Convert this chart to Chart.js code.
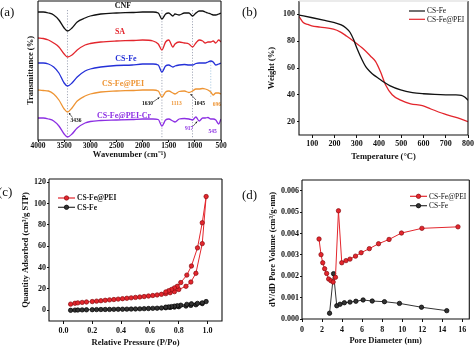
<!DOCTYPE html>
<html>
<head>
<meta charset="utf-8">
<script src="https://cdn.jsdelivr.net/npm/chart.js@4.4.1/dist/chart.umd.min.js"></script>
<style>
  html, body { margin: 0; padding: 0; background: #fff; }
  #wrap { position: relative; width: 474px; height: 348px; overflow: hidden; }
  #wrap canvas { position: absolute; }
</style>
</head>
<body>
<div id="wrap">
  <canvas id="ftir" width="237" height="174" style="left:0;top:0"></canvas>
  <canvas id="tga" width="237" height="174" style="left:237px;top:0"></canvas>
  <canvas id="bet" width="237" height="174" style="left:0;top:174px"></canvas>
  <canvas id="bjh" width="237" height="174" style="left:237px;top:174px"></canvas>
</div>
<script>
// (a) FTIR spectra, stacked with offsets (arbitrary transmittance units)
const wavenumbers = [4000, 3900, 3800, 3700, 3600, 3500, 3436, 3350, 3250, 3100, 3000, 2800, 2500, 2200, 2000, 1800, 1700, 1630, 1560, 1500, 1420, 1380, 1300, 1200, 1113, 1045, 980, 917, 850, 800, 750, 696, 650, 600, 545, 500];
const irCNF = [128, 128, 127, 125, 120, 112, 109, 112, 118, 122, 124, 126, 127, 127.5, 128, 128, 127, 121, 126, 127, 124, 126, 125, 127, 127, 124, 127, 129, 129, 128, 127, 126, 125, 125, 126, 127];
const irSA = [102, 101.5, 100, 97, 93, 86, 83, 85, 90, 95, 96.5, 98, 99, 99.5, 100, 99, 96, 90, 98, 100, 93, 96, 98, 97, 96, 93, 97, 100, 99, 97, 98, 98, 99, 97, 100, 98];
const irCSFe = [77, 77, 76, 73, 67, 57, 54, 57, 63, 69, 71, 73, 74.5, 75, 76, 76, 75, 68, 74, 75, 73, 74, 75, 75.5, 75, 75, 76.5, 77, 77, 77, 78, 79, 78, 75, 76, 77];
const irCSFePEI = [50, 49.5, 49, 46, 40, 31, 28, 32, 39, 44, 46, 48, 49, 49.5, 50, 50, 49, 43, 48, 49, 47, 46, 48.5, 49, 47.5, 49, 51, 51, 51.5, 51, 50, 48, 45, 47, 47, 46];
const irCSFePEICr = [22, 22, 21, 19, 14, 6, 3, 6, 12, 17, 18.5, 19.5, 20, 20.5, 21, 21, 20.5, 14, 20, 21, 19, 18, 21, 21.5, 21, 20, 23, 19, 22, 22, 22.5, 21, 21, 20, 16, 21];
const irPeakMarks = [3436, 1630, 1045];
const irPeakMarkPEI = 696;
const wavenumberTicks = [4000, 3500, 3000, 2500, 2000, 1500, 1000, 500];

// (b) TGA
const tgaTempFe = [40, 100, 150, 200, 230, 250, 270, 286, 300, 324, 340, 361, 380, 400, 421, 450, 497, 550, 600, 650, 700, 740, 770, 785, 800];
const tgaWeightFe = [99.5, 97.5, 95.7, 93.8, 92.2, 90, 86.5, 81, 75, 66, 61, 57, 54.3, 52, 49.5, 46.7, 43.7, 41.7, 40.8, 40.3, 40, 39.9, 39.5, 38.3, 36];
const tgaTempPEI = [40, 59, 80, 97, 135, 195, 225, 255, 286, 331, 361, 384, 407, 429, 459, 497, 542, 595, 633, 693, 754, 800];
const tgaWeightPEI = [98.5, 94, 92.5, 91.5, 90.5, 89, 87, 83.7, 80, 74, 69, 65, 57, 47.5, 40, 36, 33.3, 32, 29.4, 25.7, 22.7, 20];
const tempTicks = [100, 200, 300, 400, 500, 600, 700, 800];
const weightTicks = [20, 40, 60, 80, 100];

// (c) N2 isotherms: adsorption then desorption branch
const betPressureAds = [0.05, 0.08, 0.1, 0.13, 0.16, 0.2, 0.23, 0.26, 0.29, 0.32, 0.35, 0.38, 0.41, 0.44, 0.47, 0.5, 0.53, 0.56, 0.59, 0.62, 0.65, 0.68, 0.71, 0.74, 0.77, 0.8, 0.85, 0.884, 0.919, 0.963, 0.99];
const betAdsPEI = [5.8, 6.6, 7, 7.4, 7.8, 8.2, 8.6, 9, 9.4, 9.8, 10.1, 10.5, 10.9, 11.3, 11.7, 12.1, 12.5, 12.9, 13.4, 13.9, 14.4, 15, 15.6, 16.5, 17.5, 19.5, 22.5, 26.5, 34.7, 62.5, 106.6];
const betAdsFe = [0, 0.2, 0.3, 0.4, 0.5, 0.6, 0.7, 0.75, 0.8, 0.85, 0.9, 1, 1.05, 1.1, 1.2, 1.3, 1.4, 1.55, 1.7, 1.85, 2, 2.2, 2.4, 2.7, 3, 3.4, 4, 4.6, 5.2, 6.3, 8.2];
const betPressureDes = [0.963, 0.93, 0.888, 0.856, 0.814, 0.79, 0.77, 0.75, 0.73, 0.71];
const betDesPEI = [82, 58.5, 41.5, 33, 26, 22.5, 21, 19.5, 18.3, 17.2];
const betDesFe = [7, 6.5, 6.1, 5.6, 4.8, 4.3, 3.9, 3.5, 3.2, 3];
const pressureTicks = [0, 0.2, 0.4, 0.6, 0.8, 1.0];
const quantityTicks = [0, 20, 40, 60, 80, 100, 120];

// (d) BJH pore size distribution
const poreDiaPEI = [1.70, 1.90, 2.07, 2.26, 2.46, 2.66, 2.89, 3.11, 3.34, 3.64, 3.97, 4.39, 4.79, 5.34, 5.90, 6.72, 7.64, 8.69, 9.93, 11.97, 15.57];
const poreVolPEI = [0.00374, 0.00301, 0.00263, 0.00235, 0.00213, 0.00187, 0.00179, 0.00173, 0.00195, 0.00506, 0.00263, 0.00273, 0.0028, 0.00294, 0.0031, 0.00329, 0.00352, 0.00372, 0.00402, 0.00424, 0.00431];
const poreDiaFe = [2.75, 3.15, 3.47, 3.80, 4.23, 4.79, 5.38, 6.10, 7.01, 8.23, 9.73, 11.93, 14.45];
const poreVolFe = [0.00027, 0.00212, 0.00062, 0.00069, 0.00076, 0.00079, 0.00083, 0.00089, 0.00084, 0.00081, 0.00073, 0.00055, 0.00039];
const diameterTicks = [0, 2, 4, 6, 8, 10, 12, 14, 16];
const poreVolTicks = [0, 0.001, 0.002, 0.003, 0.004, 0.005, 0.006];

const RED = '#e3262d', BLUE = '#2430d8', ORANGE = '#ee9433', PURPLE = '#8c2fe3', BLACK = '#111';
const SERIF = "'Liberation Serif', 'Times New Roman', serif";
Chart.defaults.font.family = SERIF;
Chart.defaults.color = BLACK;

const serifBold = size => ({ family: SERIF, size: size, weight: 'bold' });
const xy = (xs, ys) => xs.map((x, i) => ({ x: x, y: ys[i] }));

function xAxis(o) {
  return {
    type: 'linear', position: 'bottom', min: o.min, max: o.max, reverse: !!o.reverse,
    afterBuildTicks: scale => { scale.ticks = o.ticks.map(v => ({ value: v })); },
    afterFit: scale => { scale.height = o.height; scale.paddingLeft = 0; scale.paddingRight = 0; },
    grid: { drawOnChartArea: false, tickLength: o.tickLength, tickColor: BLACK, tickWidth: 1 },
    border: { display: false },
    ticks: { padding: o.padding, font: serifBold(o.fontSize || 8), color: BLACK, maxRotation: 0, autoSkip: false, callback: o.format || (v => String(v)) },
    title: { display: true, text: o.title, font: serifBold(8.5), color: BLACK, padding: { top: 0, bottom: o.titlePad } }
  };
}

function yAxis(o) {
  return {
    type: 'linear', position: 'left', min: o.min, max: o.max,
    afterBuildTicks: scale => { scale.ticks = (o.ticks || []).map(v => ({ value: v })); },
    afterFit: scale => { scale.width = o.width; scale.paddingTop = 0; scale.paddingBottom = 0; },
    grid: { display: !!o.ticks, drawOnChartArea: false, tickLength: o.tickLength || 2, tickColor: BLACK, tickWidth: 1 },
    border: { display: false },
    ticks: { display: !!o.ticks, padding: o.padding || 1, font: serifBold(8), color: BLACK, autoSkip: false, callback: o.format || (v => String(v)) },
    title: { display: true, text: o.title, font: serifBold(8.5), color: BLACK, padding: { top: o.titlePad, bottom: 0 } }
  };
}

// box round the plot area
const frameBox = {
  id: 'frameBox',
  afterDraw(chart, args, opts) {
    const { ctx, chartArea: { left, top, right, bottom } } = chart;
    ctx.save();
    ctx.lineWidth = 1.1;
    ctx.strokeStyle = BLACK;
    ctx.beginPath();
    ctx.moveTo(right, top);
    ctx.lineTo(right, bottom);
    ctx.lineTo(left, bottom);
    ctx.lineTo(left, top);
    ctx.stroke();
    ctx.strokeStyle = opts.topColor || BLACK;
    ctx.beginPath();
    ctx.moveTo(left, top);
    ctx.lineTo(right, top);
    ctx.stroke();
    ctx.restore();
  }
};

const panelLetter = {
  id: 'panelLetter',
  afterDraw(chart, args, opts) {
    const ctx = chart.ctx;
    ctx.save();
    ctx.font = '13px ' + SERIF;
    ctx.fillStyle = BLACK;
    ctx.textBaseline = 'middle';
    ctx.fillText(opts.text, opts.x, opts.y);
    ctx.restore();
  }
};

// legend drawn inside the plot, one row per dataset that has a label
const innerLegend = {
  id: 'innerLegend',
  afterDraw(chart, args, opts) {
    if (!opts.x) return;
    const ctx = chart.ctx;
    ctx.save();
    ctx.font = (opts.bold ? 'bold ' : '') + opts.fontSize + 'px ' + SERIF;
    ctx.textBaseline = 'middle';
    let row = 0;
    chart.data.datasets.forEach(ds => {
      if (!ds.label) return;
      const y = opts.y + row * opts.rowGap;
      ctx.strokeStyle = ds.borderColor;
      ctx.lineWidth = 1.2;
      ctx.beginPath();
      ctx.moveTo(opts.x, y);
      ctx.lineTo(opts.x + opts.lineLen, y);
      ctx.stroke();
      if (ds.pointRadius) {
        ctx.beginPath();
        ctx.arc(opts.x + opts.lineLen / 2, y, ds.pointRadius, 0, Math.PI * 2);
        ctx.fillStyle = ds.pointBackgroundColor;
        ctx.fill();
        ctx.lineWidth = ds.pointBorderWidth;
        ctx.strokeStyle = ds.pointBorderColor;
        ctx.stroke();
      }
      ctx.fillStyle = BLACK;
      ctx.fillText(ds.label, opts.x + opts.lineLen + 2, y + 0.5);
      row++;
    });
    ctx.restore();
  }
};

// spectrum names and peak call-outs for the FTIR panel
const irSeriesNames = [
  { index: 0, x: 123, y: 6 },
  { index: 1, x: 120, y: 32 },
  { index: 2, x: 126, y: 59 },
  { index: 3, x: 123, y: 84 },
  { index: 4, x: 124, y: 116 }
];
const irPeakLabels = [
  { wn: 3436, dx: 8.5, y: 121, color: BLACK, arrow: [5, 117.5, 1.5, 113] },
  { wn: 1630, dx: -14.5, y: 104, color: BLACK, arrow: [-9, 102, -2.5, 97.5] },
  { wn: 1113, dx: -12.5, y: 103.5, color: ORANGE },
  { wn: 1045, dx: 7, y: 103.5, color: BLACK, arrow: [3.5, 100, -2, 94] },
  { wn: irPeakMarkPEI, dx: 6, y: 104.5, color: ORANGE },
  { wn: 917, dx: -10, y: 128.5, color: PURPLE, arrow: [-6, 126, -2, 121.5] },
  { wn: 545, dx: -6, y: 132, color: PURPLE }
];

const irCallouts = {
  id: 'irCallouts',
  afterDatasetsDraw(chart) {
    const ctx = chart.ctx;
    const xs = chart.scales.x;
    ctx.save();
    ctx.textAlign = 'center';
    ctx.textBaseline = 'middle';
    ctx.font = 'bold 8px ' + SERIF;
    irSeriesNames.forEach(n => {
      const ds = chart.data.datasets[n.index];
      ctx.fillStyle = ds.borderColor;
      ctx.fillText(ds.label, n.x, n.y);
    });
    ctx.font = 'bold 5.5px ' + SERIF;
    irPeakLabels.forEach(p => {
      const px = xs.getPixelForValue(p.wn);
      ctx.fillStyle = p.color;
      ctx.fillText(String(p.wn), px + p.dx, p.y);
      if (p.arrow) {
        const [dx1, y1, dx2, y2] = p.arrow;
        const x1 = px + dx1, x2 = px + dx2;
        const a = Math.atan2(y2 - y1, x2 - x1);
        ctx.strokeStyle = BLACK;
        ctx.lineWidth = 0.6;
        ctx.beginPath();
        ctx.moveTo(x1, y1);
        ctx.lineTo(x2, y2);
        ctx.stroke();
        ctx.fillStyle = BLACK;
        ctx.beginPath();
        ctx.moveTo(x2, y2);
        ctx.lineTo(x2 - 2 * Math.cos(a - 0.5), y2 - 2 * Math.sin(a - 0.5));
        ctx.lineTo(x2 - 2 * Math.cos(a + 0.5), y2 - 2 * Math.sin(a + 0.5));
        ctx.fill();
      }
    });
    ctx.restore();
  }
};

Chart.register(frameBox, panelLetter, innerLegend);

const spectrum = (label, values, color) => ({
  label: label, data: xy(wavenumbers, values), borderColor: color, borderWidth: 1.3,
  pointRadius: 0, cubicInterpolationMode: 'monotone'
});
const markLine = (wn, yTop, yBottom, color) => ({
  data: [{ x: wn, y: yTop }, { x: wn, y: yBottom }], borderColor: color, borderWidth: 0.8,
  borderDash: [1.2, 1.6], pointRadius: 0
});

const ftirChart = new Chart(document.getElementById('ftir'), {
  type: 'line',
  data: {
    datasets: [
      spectrum('CNF', irCNF, BLACK),
      spectrum('SA', irSA, RED),
      spectrum('CS-Fe', irCSFe, BLUE),
      spectrum('CS-Fe@PEI', irCSFePEI, ORANGE),
      spectrum('CS-Fe@PEI-Cr', irCSFePEICr, PURPLE),
      ...irPeakMarks.map(wn => markLine(wn, 130, 2, '#8f96a8')),
      markLine(irPeakMarkPEI, 78, 43, '#9cc0dc')
    ]
  },
  options: {
    responsive: false, animation: false,
    layout: { padding: { top: 1, right: 16, left: 0, bottom: 0 } },
    plugins: { legend: { display: false }, tooltip: { enabled: false },
      panelLetter: { text: '(a)', x: 0, y: 13 } },
    scales: {
      x: xAxis({ min: 500, max: 4000, reverse: true, ticks: wavenumberTicks, height: 34, tickLength: 2, padding: 0, fontSize: 7.5, title: 'Wavenumber (cm\u207B\u00B9)', titlePad: 14 }),
      y: yAxis({ min: 0, max: 139, width: 38, title: 'Transmittance (%)', titlePad: 26 })
    }
  },
  plugins: [irCallouts]
});

const tgaCurve = (label, xs, ys, color) => ({
  label: label, data: xy(xs, ys), borderColor: color, borderWidth: 1.3,
  pointRadius: 0, cubicInterpolationMode: 'monotone'
});

const tgaChart = new Chart(document.getElementById('tga'), {
  type: 'line',
  data: {
    datasets: [
      tgaCurve('CS-Fe', tgaTempFe, tgaWeightFe, BLACK),
      tgaCurve('CS-Fe@PEI', tgaTempPEI, tgaWeightPEI, RED)
    ]
  },
  options: {
    responsive: false, animation: false,
    layout: { padding: { top: 1, right: 6, left: 0, bottom: 0 } },
    plugins: { legend: { display: false }, tooltip: { enabled: false },
      frameBox: { topColor: '#d8d8d8' },
      panelLetter: { text: '(b)', x: 5, y: 13 },
      innerLegend: { x: 172, y: 11, rowGap: 8.3, lineLen: 16, fontSize: 7.5, bold: false } },
    scales: {
      x: xAxis({ min: 40, max: 800, ticks: tempTicks, height: 39, tickLength: 3, padding: 1, title: 'Temperature (\u00B0C)', titlePad: 12 }),
      y: yAxis({ min: 10, max: 110, ticks: weightTicks, width: 62, tickLength: 2, padding: 2, title: 'Weight (%)', titlePad: 30 })
    }
  }
});

const isotherm = (label, ads, des, color, dark) => ({
  label: label, data: xy(betPressureAds, ads).concat(xy(betPressureDes, des)),
  borderColor: color, borderWidth: 1, tension: 0,
  pointRadius: 2.2, pointBackgroundColor: color, pointBorderColor: dark, pointBorderWidth: 0.7
});

const betChart = new Chart(document.getElementById('bet'), {
  type: 'line',
  data: {
    datasets: [
      isotherm('CS-Fe@PEI', betAdsPEI, betDesPEI, RED, '#8a0c10'),
      isotherm('CS-Fe', betAdsFe, betDesFe, '#333', '#000')
    ]
  },
  options: {
    responsive: false, animation: false,
    layout: { padding: { top: 5, right: 15, left: 0, bottom: 0 } },
    plugins: { legend: { display: false }, tooltip: { enabled: false },
      panelLetter: { text: '(c)', x: -2, y: 19 },
      innerLegend: { x: 58, y: 24, rowGap: 9.3, lineLen: 17, fontSize: 7.5, bold: true } },
    scales: {
      x: xAxis({ min: -0.1, max: 1.1, ticks: pressureTicks, height: 27, tickLength: 3, padding: 2, title: 'Relative Pressure (P/Po)', titlePad: 0, format: v => v.toFixed(1) }),
      y: yAxis({ min: -10, max: 123, ticks: quantityTicks, width: 49, tickLength: 2, padding: 1, title: 'Quantity Adsorbed (cm\u00B3/g STP)', titlePad: 21 })
    }
  }
});

const poreCurve = (label, xs, ys, color, dark) => ({
  label: label, data: xy(xs, ys), borderColor: color, borderWidth: 1, tension: 0,
  pointRadius: 2.2, pointBackgroundColor: color, pointBorderColor: dark, pointBorderWidth: 0.7
});

const bjhChart = new Chart(document.getElementById('bjh'), {
  type: 'line',
  data: {
    datasets: [
      poreCurve('CS-Fe@PEI', poreDiaPEI, poreVolPEI, RED, '#8a0c10'),
      poreCurve('CS-Fe', poreDiaFe, poreVolFe, '#333', '#000')
    ]
  },
  options: {
    responsive: false, animation: false,
    layout: { padding: { top: 6, right: 2, left: 0, bottom: 0 } },
    plugins: { legend: { display: false }, tooltip: { enabled: false },
      panelLetter: { text: '(d)', x: 5, y: 22 },
      innerLegend: { x: 173, y: 22.3, rowGap: 9.4, lineLen: 17, fontSize: 7.5, bold: false } },
    scales: {
      x: xAxis({ min: 0, max: 16.7, ticks: diameterTicks, height: 29, tickLength: 3, padding: 3, title: 'Pore Diameter (nm)', titlePad: 2.5 }),
      y: yAxis({ min: 0, max: 0.0065, ticks: poreVolTicks, width: 65, tickLength: 2, padding: 1, title: 'dV/dD Pore Volume (cm\u00B3/g\u00B7nm)', titlePad: 31, format: v => v.toFixed(3) })
    }
  }
});
</script>
</body>
</html>
